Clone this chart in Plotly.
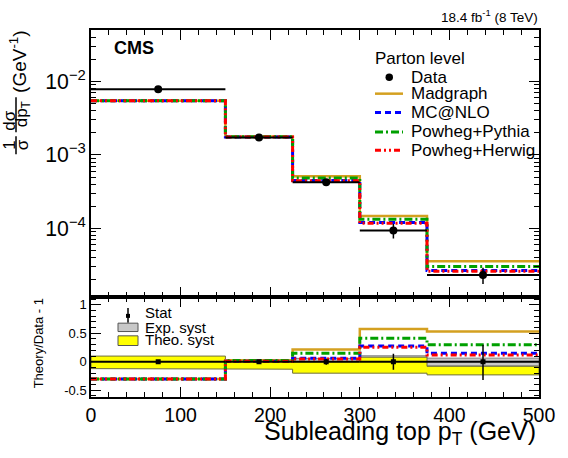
import plotly.graph_objects as go

# ---------------- data ----------------
edges = [0, 150, 225, 300, 375, 500]
centers = [75, 187.5, 262.5, 337.5, 437.5]
data = [7.8e-3, 1.73e-3, 4.23e-4, 9.4e-5, 2.33e-5]
data_err = [1.5e-4, 7e-5, 4.2e-5, 2.1e-5, 5.8e-6]
madgraph = [5.46e-3, 1.78e-3, 5.14e-4, 1.48e-4, 3.57e-5]
mcatnlo = [5.46e-3, 1.75e-3, 4.5e-4, 1.2e-4, 2.68e-5]
pythia = [5.46e-3, 1.77e-3, 4.86e-4, 1.33e-4, 3.03e-5]
herwig = [5.46e-3, 1.75e-3, 4.44e-4, 1.18e-4, 2.61e-5]
stat_up = [0.02, 0.03, 0.05, 0.14, 0.30]
stat_dn = [0.02, 0.03, 0.05, 0.14, 0.32]
exp_up = [0.05, 0.03, 0.06, 0.105, 0.064]
exp_dn = [-0.05, -0.03, -0.03, -0.10, -0.07]
theo_up = [0.10, 0.04, 0.0, 0.08, -0.08]
theo_dn = [-0.12, -0.13, -0.20, -0.20, -0.23]
x_ticks = [0, 100, 200, 300, 400, 500]
r_ticks = [-0.5, 0, 0.5, 1]

FONT = "Liberation Sans"
W, H = 568, 458
PL, PR, PT, PB = 91, 539, 29.5, 397.3       # plot frame in window pixels
SPLIT = 297.3                               # main / ratio boundary
L, T = PL, PT
R = W - PR
B = H - PB
PH = PB - PT
rfrac = (PB - SPLIT) / PH

models = [
    ("Madgraph", madgraph, "#d4a020", "solid", 2.5),
    ("MC@NLO", mcatnlo, "#0000ff", "6px,4px", 3),
    ("Powheg+Pythia", pythia, "#00a000", "8px,3px,2px,3px", 3),
    ("Powheg+Herwig", herwig, "#ff0000", "6px,3px,2px,3px,2px,3px", 3),
]


def step(vals):
    return edges, list(vals) + [vals[-1]]


def band(up, dn):
    xs, ys = [], []
    for i in range(len(up)):
        xs += [edges[i], edges[i + 1]]
        ys += [up[i], up[i]]
    for i in reversed(range(len(dn))):
        xs += [edges[i + 1], edges[i]]
        ys += [dn[i], dn[i]]
    xs.append(xs[0]); ys.append(ys[0])
    return xs, ys


half = [(edges[i + 1] - edges[i]) / 2 for i in range(len(centers))]

fig = go.Figure()

# ---- ratio panel ----
bx, by = band(exp_up, exp_dn)
fig.add_trace(go.Scatter(x=bx, y=by, fill="toself", fillcolor="#c8c8c8",
                         line=dict(color="#808080", width=1), mode="lines",
                         xaxis="x", yaxis="y", hoverinfo="skip"))
bx, by = band(theo_up, theo_dn)
fig.add_trace(go.Scatter(x=bx, y=by, fill="toself", fillcolor="#ffff00",
                         line=dict(color="#6e6e40", width=1), mode="lines",
                         xaxis="x", yaxis="y", hoverinfo="skip"))
for name, vals, col, dash, lw in models:
    ratio = [m / d - 1 for m, d in zip(vals, data)]
    sx, sy = step(ratio)
    fig.add_trace(go.Scatter(x=sx, y=sy, mode="lines", line_shape="hv",
                             line=dict(color=col, dash=dash, width=lw),
                             xaxis="x", yaxis="y"))
fig.add_trace(go.Scatter(
    x=centers, y=[0] * len(centers), mode="markers",
    marker=dict(color="black", size=5, symbol="square"),
    error_x=dict(type="data", array=half, color="black", thickness=2, width=0),
    error_y=dict(type="data", array=stat_up, arrayminus=stat_dn, symmetric=False,
                 color="black", thickness=1.5, width=0),
    xaxis="x", yaxis="y"))

# ---- main panel ----
for name, vals, col, dash, lw in models:
    sx, sy = step(vals)
    fig.add_trace(go.Scatter(x=sx, y=sy, mode="lines", line_shape="hv",
                             line=dict(color=col, dash=dash, width=lw),
                             xaxis="x2", yaxis="y2"))
fig.add_trace(go.Scatter(
    x=centers, y=data, mode="markers",
    marker=dict(color="black", size=8, symbol="circle"),
    error_x=dict(type="data", array=half, color="black", thickness=2, width=0),
    error_y=dict(type="data", array=data_err, color="black", thickness=1.5, width=0),
    xaxis="x2", yaxis="y2"))

axis_common = dict(showline=True, linecolor="black", linewidth=1.5, mirror="allticks",
                   ticks="inside", tickcolor="black", showgrid=False, zeroline=False)

fig.update_layout(
    width=W, height=H, showlegend=False,
    margin=dict(l=L, r=R, t=T, b=B),
    paper_bgcolor="white", plot_bgcolor="white",
    font=dict(family=FONT, color="black"),
    xaxis=dict(**axis_common, domain=[0, 1], anchor="y", range=[0, 500],
               tickvals=x_ticks, ticktext=[str(v) for v in x_ticks], ticklen=10,
               tickwidth=1.2, tickfont=dict(size=19.5),
               minor=dict(tickmode="linear", tick0=0, dtick=20, ticklen=5,
                          ticks="inside", tickcolor="black", showgrid=False)),
    yaxis=dict(**axis_common, domain=[0, rfrac], anchor="x", range=[-0.618, 1.133],
               tickvals=r_ticks, ticktext=["-0.5", "0", "0.5", "1"], ticklen=10,
               tickwidth=1.2, tickfont=dict(size=13),
               minor=dict(tickmode="linear", tick0=0, dtick=0.1, ticklen=5,
                          ticks="inside", tickcolor="black", showgrid=False)),
    xaxis2=dict(**axis_common, domain=[0, 1], anchor="y2", range=[0, 500],
                matches="x", tickvals=x_ticks, showticklabels=False, ticklen=10,
                tickwidth=1.2,
                minor=dict(tickmode="linear", tick0=0, dtick=20, ticklen=5,
                           ticks="inside", tickcolor="black", showgrid=False)),
    yaxis2=dict(**axis_common, domain=[rfrac, 1], anchor="x2", type="log",
                range=[-4.936, -1.301], dtick=1, exponentformat="power",
                ticklen=10, tickwidth=1.2, tickfont=dict(size=17),
                minor=dict(ticks="inside", ticklen=5, tickcolor="black",
                           dtick="D1", showgrid=False)),
)


def px(x):
    return (x - PL) / (PR - PL)


def py(y):
    return (PB - y) / PH


ann = []
shapes = []


def text(x, y, s, size, anchor="left", bold=False, angle=0):
    ann.append(dict(x=px(x), y=py(y), xref="paper", yref="paper", text=s,
                    showarrow=False, xanchor=anchor, yanchor="middle",
                    textangle=angle,
                    font=dict(family=FONT, size=size, color="black",
                              weight="bold" if bold else "normal")))


# titles
text(540, 15, "18.4 fb<sup>-1</sup> (8 TeV)", 13.5, anchor="right")
text(112, 47.5, "CMS", 18, bold=True)
text(538, 433, "Subleading top p<sub>T</sub> (GeV)", 25, anchor="right")
text(38.5, 344, "Theory/Data - 1", 13, anchor="center", angle=-90)
# y title (fractions)
text(18.5, 61, "(GeV<sup>-1</sup>)", 19, anchor="center", angle=-90)
text(9.5, 121, "dσ", 17, anchor="center", angle=-90)
text(23, 114, "dp<sub>T</sub>", 17, anchor="center", angle=-90)
text(9.5, 145, "1", 17, anchor="center", angle=-90)
text(22, 145, "σ", 17, anchor="center", angle=-90)
shapes.append(dict(type="line", xref="paper", yref="paper", x0=px(16), x1=px(16),
                   y0=py(97), y1=py(132), line=dict(color="black", width=1.5)))
shapes.append(dict(type="line", xref="paper", yref="paper", x0=px(16), x1=px(16),
                   y0=py(136), y1=py(154), line=dict(color="black", width=1.5)))

# main legend
text(373, 57.7, "Parton level", 17)
rows = [93.3, 112.3, 131.7, 150.0]
shapes.append(dict(type="circle", xref="paper", yref="paper", x0=px(385.5), x1=px(393),
                   y0=py(73), y1=py(80.5), fillcolor="black", line=dict(color="black", width=0)))
text(409, 76.7, "Data", 17)
for (name, vals, col, dash, lw), yy in zip(models, rows):
    shapes.append(dict(type="line", xref="paper", yref="paper", x0=px(375), x1=px(403),
                       y0=py(yy), y1=py(yy), line=dict(color=col, dash=dash, width=lw)))
    text(409, yy, name, 17)

# ratio legend
shapes.append(dict(type="line", xref="paper", yref="paper", x0=px(128), x1=px(128),
                   y0=py(308), y1=py(323), line=dict(color="black", width=1.5)))
shapes.append(dict(type="rect", xref="paper", yref="paper", x0=px(126), x1=px(130),
                   y0=py(314), y1=py(318), fillcolor="black", line=dict(width=0)))
text(143, 313, "Stat", 15)
shapes.append(dict(type="rect", xref="paper", yref="paper", x0=px(118), x1=px(138),
                   y0=py(323.3), y1=py(331.7), fillcolor="#c8c8c8",
                   line=dict(color="#555555", width=1)))
text(143, 327.3, "Exp. syst", 15)
shapes.append(dict(type="rect", xref="paper", yref="paper", x0=px(118), x1=px(138),
                   y0=py(336), y1=py(345.7), fillcolor="#ffff00",
                   line=dict(color="#555555", width=1)))
text(143, 340, "Theo. syst", 15)

fig.update_layout(annotations=ann, shapes=shapes)
fig.write_html(
    "out.html",
    config={"displayModeBar": False},
    post_script="document.body.style.margin='0px';document.body.style.overflow='hidden';",
)
